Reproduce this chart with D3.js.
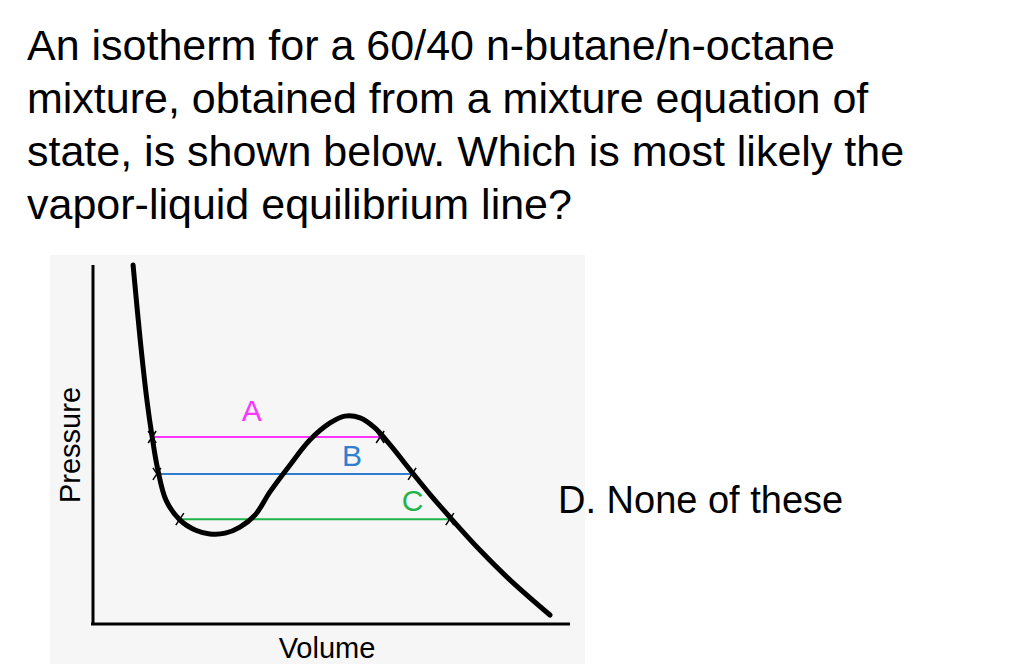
<!DOCTYPE html>
<html><head><meta charset="utf-8">
<script src="https://cdn.jsdelivr.net/npm/d3@7"></script>
<style>body{margin:0;background:#fff}svg{display:block}</style>
</head><body>
<svg id="c" width="1024" height="664"></svg>
<script>
const titleLines = ["An isotherm for a 60/40 n-butane/n-octane", "mixture, obtained from a mixture equation of", "state, is shown below. Which is most likely the", "vapor-liquid equilibrium line?"];
// isotherm points [volume, pressure] on 0..100 scale
const isotherm = [[8.4,100],[9.9,79.1],[11.3,62.4],[12.4,52.1],[13.6,42.9],[15.3,34.5],[18.2,29.0],[21.4,26.2],[24.5,25.1],[27.7,25.3],[30.8,27.0],[34.0,30.4],[37.1,36.8],[41.3,44.3],[45.5,51.3],[49.7,56.0],[52.8,57.9],[56.0,57.4],[59.1,54.6],[62.3,49.9],[66.5,42.9],[70.6,36.2],[74.8,29.8],[81.1,20.6],[87.4,12.3],[95.8,2.5]];
const tieLines = [
  {label: "A", p: 52.1, v0: 12.4, v1: 60.2, color: "#ff33ff", lx: 33.3, ly: 56.5},
  {label: "B", p: 41.8, v0: 13.4, v1: 66.9, color: "#2f7fd0", lx: 54.3, ly: 44.0},
  {label: "C", p: 29.2, v0: 18.2, v1: 74.8, color: "#1fb34a", lx: 67.0, ly: 31.5}
];

const svg = d3.select("#c");
svg.selectAll("text.t").data(titleLines).join("text").attr("class","t")
  .attr("x", 27).attr("y", (d,i) => 60 + i*53)
  .attr("font-family","Liberation Sans, Arial").attr("font-size", 43).attr("fill","#000").text(d => d);

svg.append("rect").attr("x",50).attr("y",255).attr("width",535).attr("height",409).attr("fill","#f6f6f6");

const x = d3.scaleLinear().domain([0,100]).range([93,570]);
const y = d3.scaleLinear().domain([0,100]).range([624,265]);

svg.append("line").attr("x1",93).attr("x2",93).attr("y1",265).attr("y2",625).attr("stroke","#000").attr("stroke-width",3);
svg.append("line").attr("x1",91).attr("x2",570).attr("y1",624).attr("y2",624).attr("stroke","#000").attr("stroke-width",3);

tieLines.forEach(t => {
  svg.append("line").attr("x1",x(t.v0)).attr("x2",x(t.v1)).attr("y1",y(t.p)).attr("y2",y(t.p))
    .attr("stroke",t.color).attr("stroke-width",2);
  svg.append("text").attr("x",x(t.lx)).attr("y",y(t.ly)).attr("text-anchor","middle")
    .attr("font-family","Liberation Sans, Arial").attr("font-size",30).attr("fill",t.color).text(t.label);
});

svg.append("path").datum(isotherm)
  .attr("d", d3.line().x(d => x(d[0])).y(d => y(d[1])).curve(d3.curveCatmullRom))
  .attr("fill","none").attr("stroke","#000").attr("stroke-width",5).attr("stroke-linecap","round");

tieLines.forEach(t => {
  [t.v0, t.v1].forEach(v => {
    const cx = x(v), cy = y(t.p);
    svg.append("path").attr("d",`M${cx-4},${cy-6}L${cx+4},${cy+6}M${cx+4},${cy-6}L${cx-4},${cy+6}`)
      .attr("stroke","#000").attr("stroke-width",1.5);
  });
});

svg.append("text").attr("transform","translate(80,445) rotate(-90)").attr("text-anchor","middle")
  .attr("font-family","Liberation Sans, Arial").attr("font-size",29).text("Pressure");
svg.append("text").attr("x",327).attr("y",658).attr("text-anchor","middle")
  .attr("font-family","Liberation Sans, Arial").attr("font-size",29).text("Volume");
svg.append("text").attr("x",558).attr("y",513)
  .attr("font-family","Liberation Sans, Arial").attr("font-size",38).text("D. None of these");
</script>
</body></html>
